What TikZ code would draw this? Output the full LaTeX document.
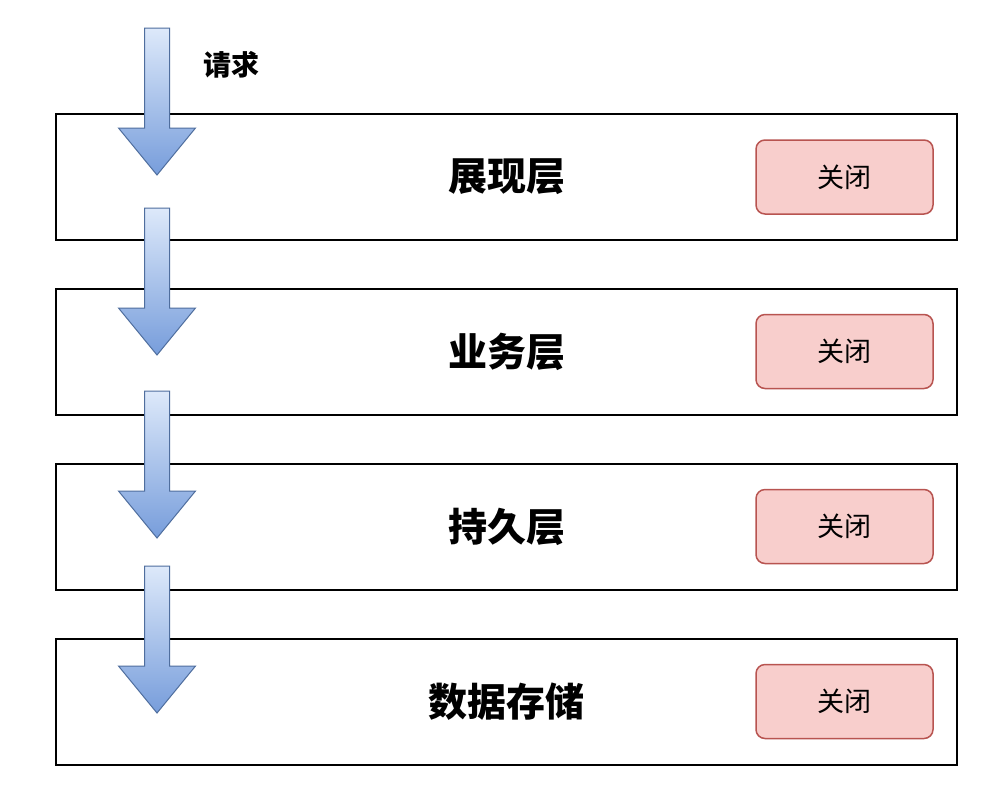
\documentclass[tikz,border=0pt]{standalone}
\usepackage{fontspec}
\newfontfamily\cjk{Noto Sans CJK SC}
\definecolor{btnfill}{HTML}{F8CECC}
\definecolor{btnborder}{HTML}{B85450}
\definecolor{arrtop}{HTML}{DDE9FA}
\definecolor{arrbot}{HTML}{779DDB}
\definecolor{arrborder}{HTML}{4F6E9E}
\tikzset{
  layer/.style={draw=black, line width=2pt, minimum width=901pt, minimum height=126pt, inner sep=0pt,
    font=\cjk\bfseries\fontsize{39}{39}\selectfont},
  btn/.style={draw=btnborder, fill=btnfill, line width=1.5pt, rounded corners=9pt,
    minimum width=177pt, minimum height=74pt, inner sep=0pt, font=\cjk\fontsize{27}{27}\selectfont},
  lbl/.style={font=\cjk\bfseries\fontsize{28}{28}\selectfont, inner sep=0pt},
  arrowshape/.style={draw=arrborder, line width=1pt, top color=arrtop, bottom color=arrbot, line join=miter},
  dnarrow/.pic={
    \path[arrowshape] (-12.5,0) -- (12.5,0) -- (12.5,100) -- (38.5,100) -- (0,147)
      -- (-38.5,100) -- (-12.5,100) -- cycle;
  }
}
\begin{document}
\begin{tikzpicture}[x=1pt,y=-1pt]
\path[use as bounding box, fill=white] (0,0) rectangle (1008,804);
% layers
\node[layer] (L1) at (506.5,177) {展现层};
\node[layer] (L2) at (506.5,351.5) {业务层};
\node[layer] (L3) at (506.5,526.5) {持久层};
\node[layer] (L4) at (506.5,701.5) {数据存储};
% buttons
\node[btn] (B1) at (844.5,177) {关闭};
\node[btn] (B2) at (844.5,351.5) {关闭};
\node[btn] (B3) at (844.5,526.5) {关闭};
\node[btn] (B4) at (844.5,701.5) {关闭};
% arrows
\pic (A1) at (157,28) {dnarrow};
\pic (A2) at (157,208) {dnarrow};
\pic (A3) at (157,391) {dnarrow};
\pic (A4) at (157,566) {dnarrow};
% request label
\node[lbl] (R) at (231,65) {请求};
\end{tikzpicture}
\end{document}
